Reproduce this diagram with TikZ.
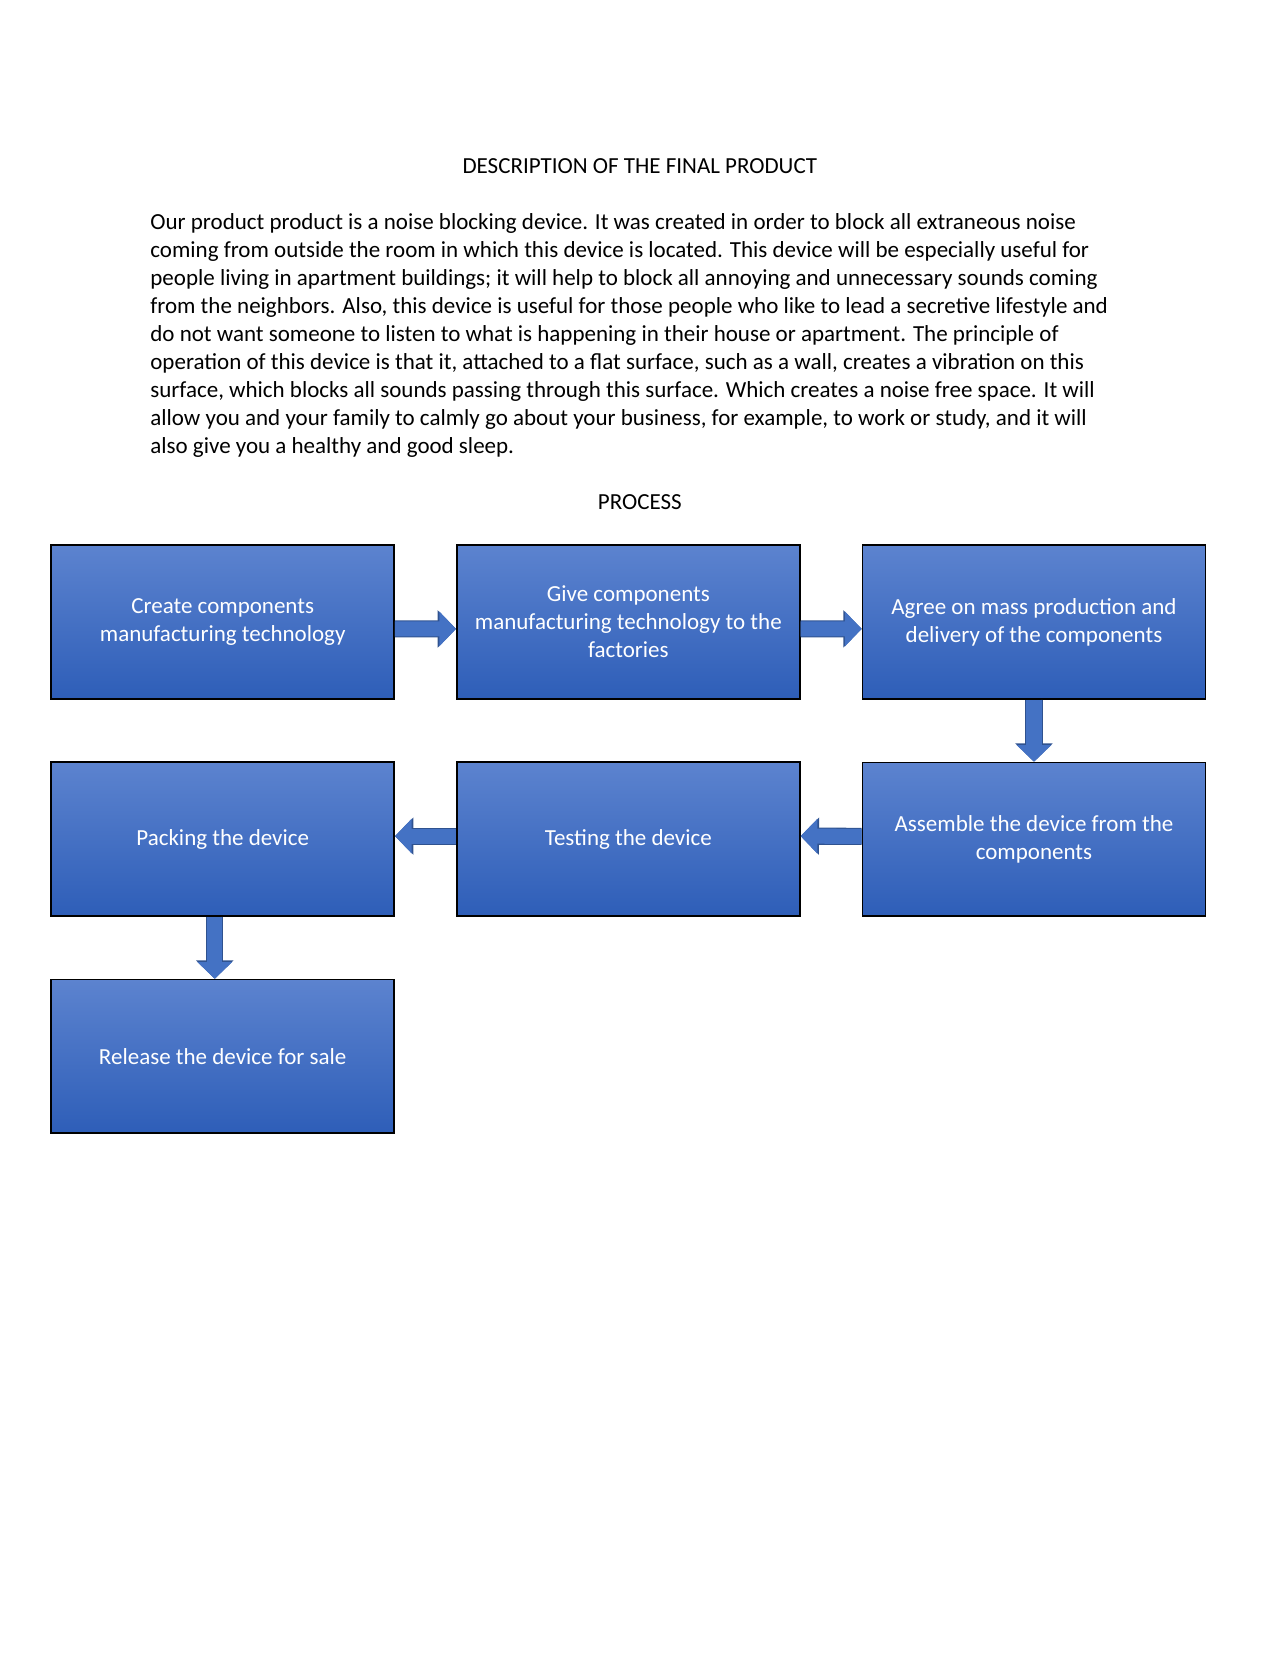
\documentclass[tikz,border=0pt]{standalone}
\usepackage{fontspec}
\setmainfont{Carlito}
\usetikzlibrary{matrix,arrows.meta}

\definecolor{boxtop}{RGB}{92,131,207}
\definecolor{boxbottom}{RGB}{46,94,184}
\definecolor{arrowfill}{RGB}{68,114,196}
\definecolor{arrowedge}{RGB}{47,82,143}

\begin{document}
\begin{tikzpicture}[
		x=0.478125pt, y=-0.47826pt,
		font=\fontsize{11}{13.4}\selectfont,
		plain/.style={
			inner sep=0pt,
			text=black
		},
		steps/.style={
			matrix of nodes,
			inner sep=0pt,
			nodes={
				draw=black,
				line width=0.8pt,
				top color=boxtop,
				bottom color=boxbottom,
				text=white,
				minimum width=164pt,
				minimum height=73.4pt
			},
			column sep=29.2pt,
			row sep=29.6pt
		},
		flow/.style={
			line width=7.2pt,
			draw=arrowfill,
			-{Triangle[length=8pt,width=16.2pt]},
			preaction={draw=arrowedge, line width=8.2pt, -{Triangle[length=8.8pt,width=17.4pt]}}
		}
		]
		\useasboundingbox (0,0) rectangle (1280,1656);
		
		\node[plain] (title) at (640,166) {DESCRIPTION OF THE FINAL PRODUCT};
		\node[plain, anchor=north west, align=left] (desc) at (150,213) {Our product product is a noise blocking device. It was created in order to block all extraneous noise\\
			coming from outside the room in which this device is located. This device will be especially useful for\\
			people living in apartment buildings; it will help to block all annoying and unnecessary sounds coming\\
			from the neighbors. Also, this device is useful for those people who like to lead a secretive lifestyle and\\
			do not want someone to listen to what is happening in their house or apartment. The principle of\\
			operation of this device is that it, attached to a flat surface, such as a wall, creates a vibration on this\\
			surface, which blocks all sounds passing through this surface. Which creates a noise free space. It will\\
			allow you and your family to calmly go about your business, for example, to work or study, and it will\\
			also give you a healthy and good sleep.};
		\node[plain] (process) at (640,502) {PROCESS};
		
		\matrix[steps, anchor=north west] (proc) at (50,544)
		{
			\parbox{160pt}{\centering Create components\\manufacturing technology} &
			\parbox{160pt}{\centering Give components\\manufacturing technology to the\\factories} &
			\parbox{160pt}{\centering Agree on mass production and\\delivery of the components} \\
			Packing the device &
			Testing the device &
			\parbox{160pt}{\centering Assemble the device from the\\components} \\
			Release the device for sale \\
		};
		
		% arrows between the steps
		\foreach \a/\b in {1-1/1-2,1-2/1-3}
		\draw[flow] ([yshift=-3.3pt]proc-\a.east) -- ([yshift=-3.3pt]proc-\b.west);
		\foreach \a/\b in {2-3/2-2,2-2/2-1}
		\draw[flow] ([yshift=1.4pt]proc-\a.west) -- ([yshift=1.4pt]proc-\b.east);
		\draw[flow] (proc-1-3.south) -- (proc-2-3.north);
		\draw[flow] ([xshift=-3.8pt]proc-2-1.south) -- ([xshift=-3.8pt]proc-3-1.north);
		
\end{tikzpicture}
\end{document}
